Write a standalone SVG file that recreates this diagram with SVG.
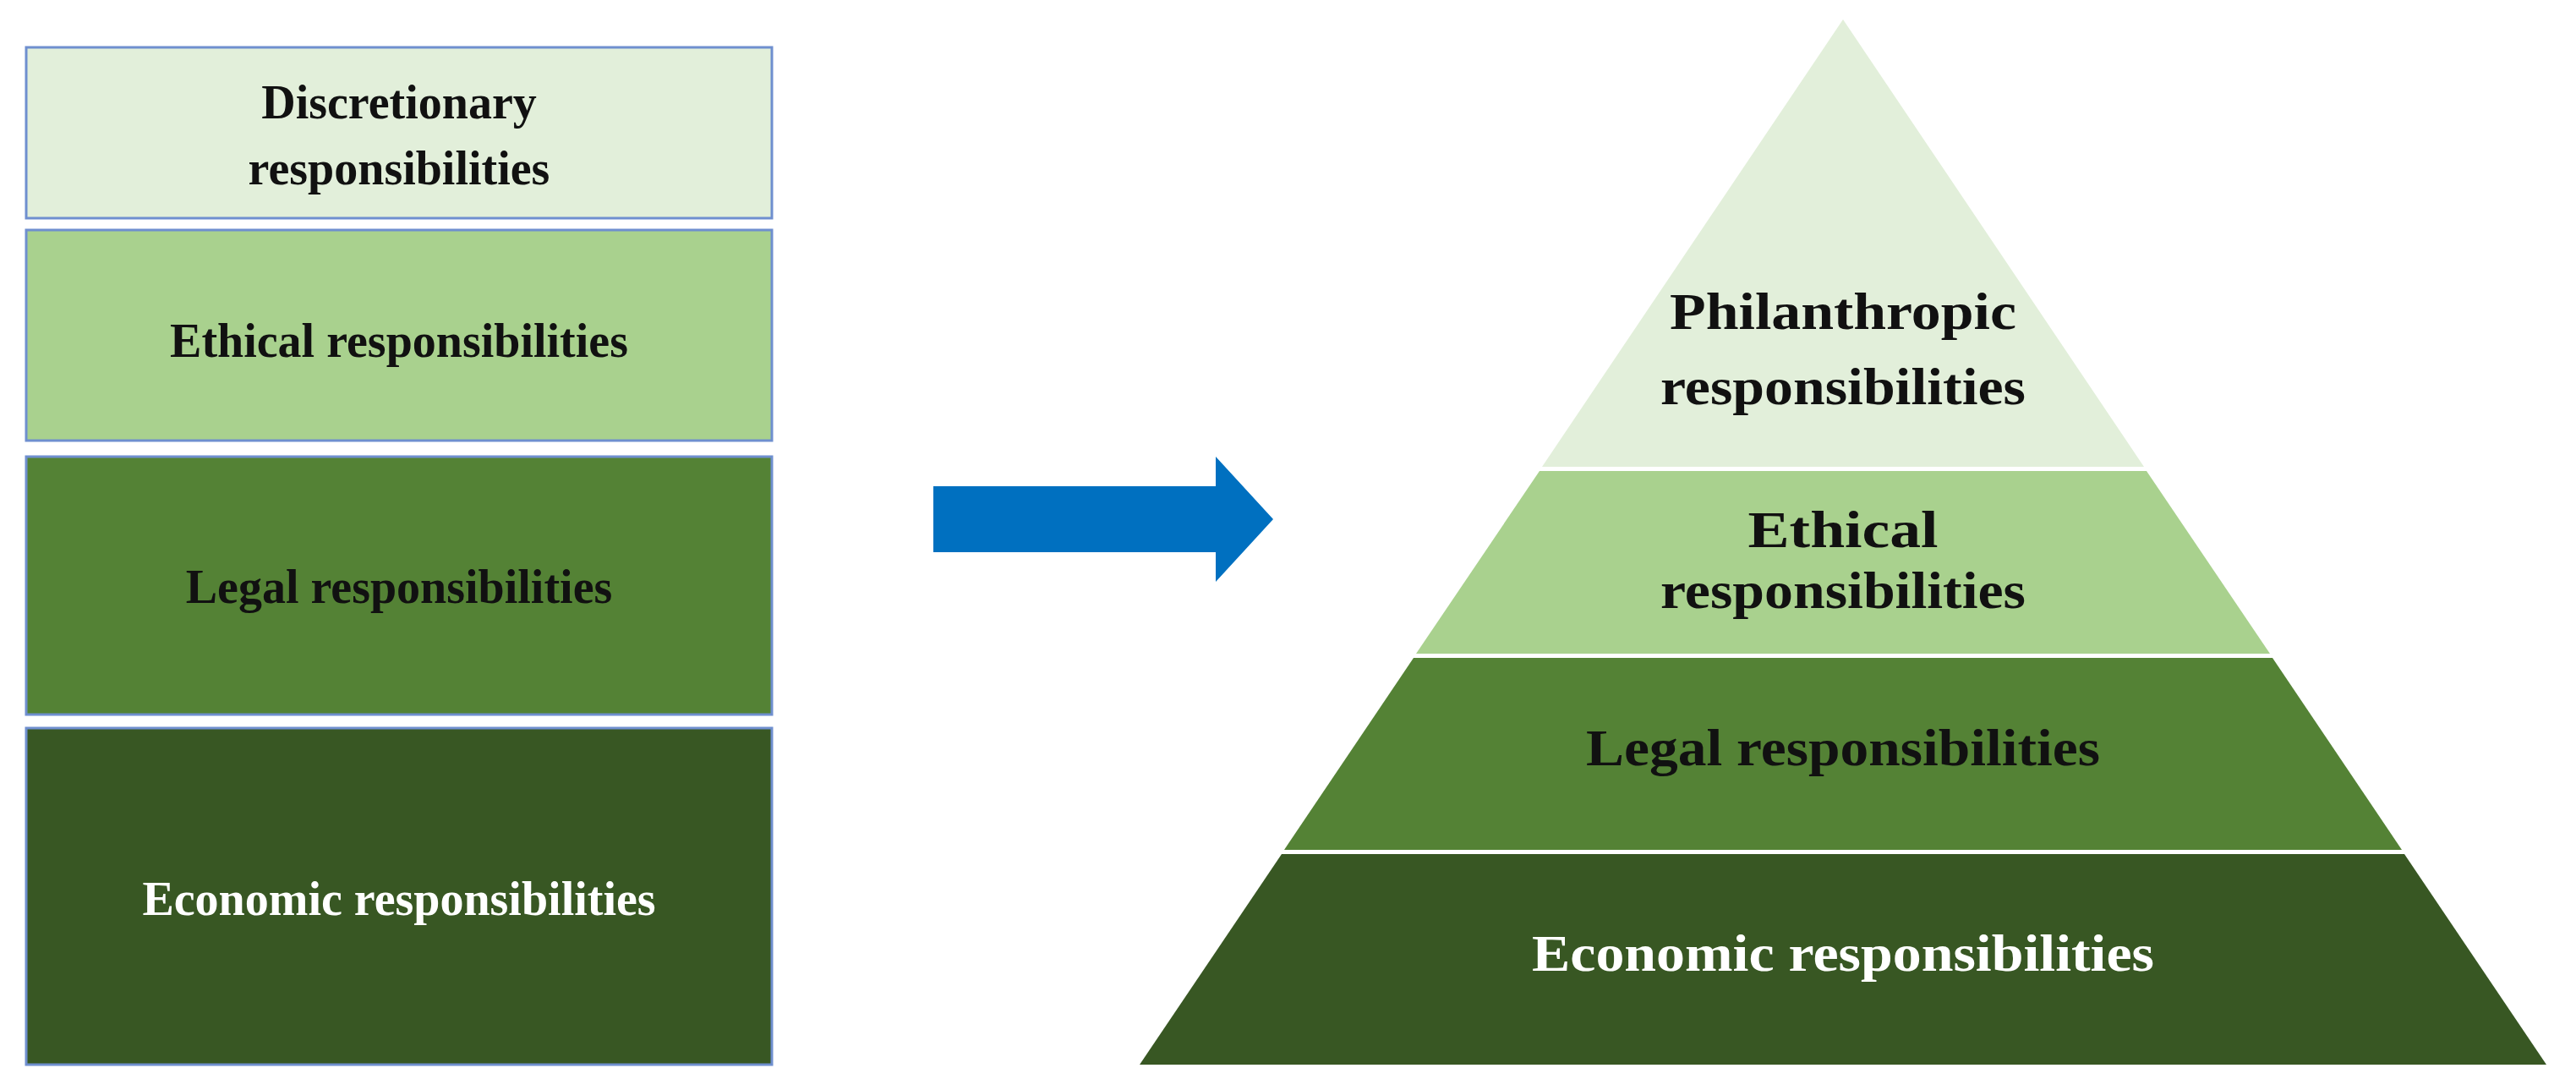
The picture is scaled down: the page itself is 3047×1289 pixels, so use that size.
<svg xmlns="http://www.w3.org/2000/svg" width="3047" height="1289" viewBox="0 0 3047 1289">
<style>
.b{stroke:#6f8fcf;stroke-width:3}
.t{font-family:"Liberation Serif",serif;font-weight:bold;text-anchor:middle}
.l{font-size:56px}
.p{font-size:62px}
.w{fill:#fff}.k{fill:#111}
</style>
<rect width="3047" height="1289" fill="#fff"/>
<g id="left-discretionary"><rect class="b" x="31" y="56" width="882" height="202" fill="#E2EFDA"/>
<text class="t l k" x="472" y="140">Discretionary</text><text class="t l k" x="472" y="218">responsibilities</text></g>
<g id="left-ethical"><rect class="b" x="31" y="272" width="882" height="249" fill="#A9D18E"/>
<text class="t l k" x="472" y="422">Ethical responsibilities</text></g>
<g id="left-legal"><rect class="b" x="31" y="540" width="882" height="305" fill="#548235"/>
<text class="t l k" x="472" y="713">Legal responsibilities</text></g>
<g id="left-economic"><rect class="b" x="31" y="861" width="882" height="398" fill="#385723"/>
<text class="t l w" x="472" y="1082">Economic responsibilities</text></g>
<g id="connectors"><polygon points="1104,575 1438,575 1438,540 1506,614 1438,688 1438,653 1104,653" fill="#0070C0"/></g>
<g id="pyr-philanthropic"><polygon points="2180,23 2536,552 1824,552" fill="#E2EFDA"/>
<text class="t p k" x="2180" y="389" textLength="410" lengthAdjust="spacingAndGlyphs">Philanthropic</text>
<text class="t p k" x="2180" y="478" textLength="432" lengthAdjust="spacingAndGlyphs">responsibilities</text></g>
<g id="pyr-ethical"><polygon points="1821,557 2539,557 2685,773 1675,773" fill="#A9D18E"/>
<text class="t p k" x="2180" y="647" textLength="225" lengthAdjust="spacingAndGlyphs">Ethical</text>
<text class="t p k" x="2180" y="719" textLength="432" lengthAdjust="spacingAndGlyphs">responsibilities</text></g>
<g id="pyr-legal"><polygon points="1672,778 2688,778 2841,1005 1519,1005" fill="#548235"/>
<text class="t p k" x="2180" y="905" textLength="608" lengthAdjust="spacingAndGlyphs">Legal responsibilities</text></g>
<g id="pyr-economic"><polygon points="1516,1010 2844,1010 3012,1259 1348,1259" fill="#385723"/>
<text class="t p w" x="2180" y="1148" textLength="736" lengthAdjust="spacingAndGlyphs">Economic responsibilities</text></g>
</svg>
